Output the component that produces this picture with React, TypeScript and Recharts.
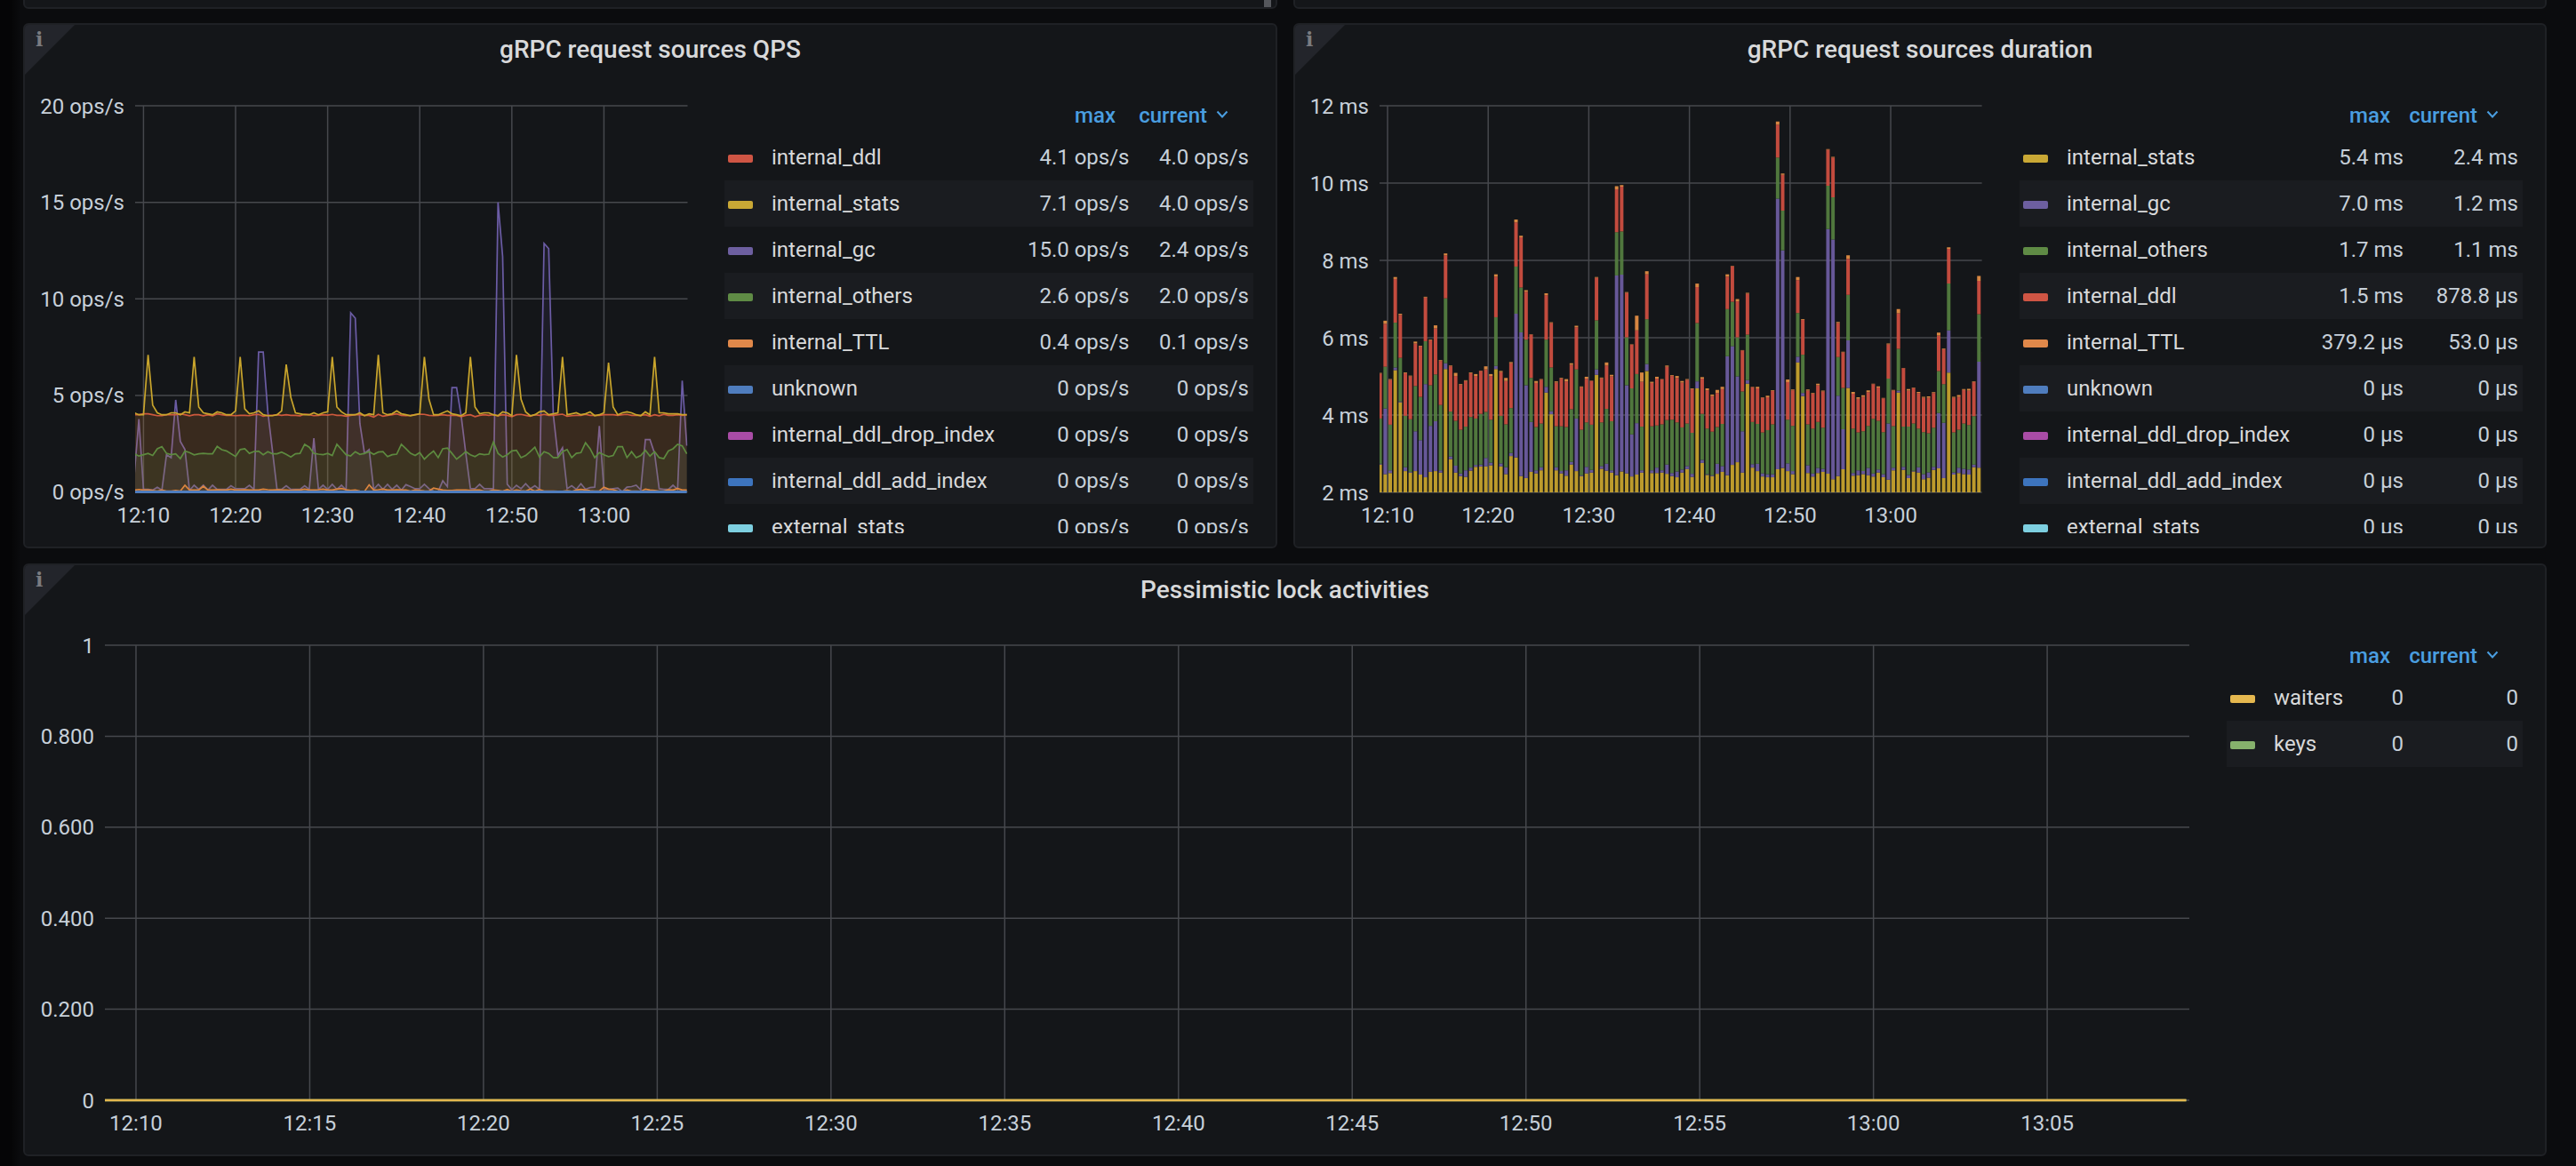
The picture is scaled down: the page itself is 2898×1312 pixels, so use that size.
import React from 'react'
import {
  Area,
  Bar,
  BarChart,
  CartesianGrid,
  ComposedChart,
  Line,
  LineChart,
  XAxis,
  YAxis,
} from 'recharts'

const FONT = 'Roboto, sans-serif'
const TEXT = '#c7d0d9'
const GRID = '#46484d'

// sample times, minutes after 12:00, one every 30s from 12:09
const sampleMinutes = Array.from({ length: 121 }, (_, i) => 9 + i * 0.5)

// gRPC request sources QPS
const qpsDdl = [
  4.0, 4.0, 4.05, 4.05, 4.0, 3.95, 3.95, 4.0, 4.0, 4.0,
  4.05, 4.0, 3.95, 4.0, 4.0, 3.95, 4.0, 3.95, 4.05, 4.0,
  3.97, 3.97, 3.95, 3.97, 3.97, 3.95, 4.0, 4.02, 3.92, 3.97,
  3.97, 4.0, 3.97, 4.0, 3.97, 3.97, 3.95, 4.03, 4.0, 3.95,
  3.97, 4.0, 3.98, 4.02, 3.97, 3.97, 3.92, 3.97, 4.0, 4.0,
  3.97, 3.97, 3.88, 4.02, 3.92, 3.97, 4.0, 4.05, 3.97, 3.95,
  3.97, 4.0, 4.03, 4.02, 3.97, 3.95, 3.97, 4.0, 3.97, 3.97,
  3.97, 3.9, 3.97, 4.0, 3.9, 3.97, 4.0, 3.97, 4.0, 3.95,
  4.0, 3.97, 3.9, 4.0, 4.02, 3.97, 3.92, 4.0, 3.97, 4.02,
  3.97, 3.97, 4.0, 4.03, 3.92, 3.95, 3.97, 3.97, 4.02, 3.97,
  3.97, 3.97, 4.0, 4.0, 4.0, 3.97, 4.0, 4.02, 3.97, 3.97,
  3.97, 4.0, 3.92, 4.0, 3.95, 4.02, 3.97, 3.97, 4.0, 3.97,
  4.0,
]
const qpsStats = [
  4.1, 4.0, 4.0, 7.1, 4.5, 4.1, 4.0, 4.0, 4.1, 4.1,
  4.0, 4.15, 4.1, 7.0, 4.4, 4.1, 4.05, 4.0, 4.15, 4.1,
  4.0, 4.0, 4.2, 7.0, 4.3, 4.05, 4.1, 4.2, 4.0, 3.95,
  3.95, 4.0, 4.2, 6.6, 4.9, 4.1, 4.05, 4.0, 4.0, 4.1,
  4.0, 4.1, 4.15, 7.0, 4.4, 4.15, 4.0, 4.0, 4.0, 4.1,
  3.95, 4.05, 4.0, 7.1, 4.1, 4.0, 4.05, 4.2, 4.05, 4.0,
  3.95, 4.0, 4.05, 7.0, 4.8, 4.0, 4.0, 4.1, 4.2, 4.05,
  4.0, 3.95, 4.1, 7.0, 4.4, 4.05, 4.1, 4.1, 4.0, 3.95,
  4.15, 4.1, 3.95, 7.1, 4.8, 4.15, 3.95, 4.0, 4.15, 4.2,
  4.0, 4.05, 4.1, 7.0, 4.0, 4.05, 4.1, 4.0, 4.05, 4.15,
  3.95, 4.0, 4.1, 6.7, 4.4, 4.0, 4.1, 4.15, 4.1, 4.0,
  3.95, 4.15, 4.0, 7.0, 4.1, 4.1, 4.05, 4.05, 4.05, 4.0,
  4.0,
]
const qpsGc = [
  0.9, 3.77, 0.14, 0.14, 0.1, 0.25, 0.1, 1.93, 1.78, 4.77,
  2.62, 2.2, 0.08, 0.35, 0.14, 0.35, 0.1, 0.35, 0.14, 0.14,
  0.14, 0.32, 0.17, 0.17, 0.17, 0.35, 0.14, 7.25, 7.25, 4.15,
  2.16, 0.14, 0.14, 0.32, 0.14, 0.14, 0.14, 0.32, 0.14, 2.78,
  0.14, 0.35, 0.14, 0.4, 0.14, 0.35, 0.1, 9.28, 9.0, 3.54,
  2.0, 2.2, 0.14, 0.4, 0.14, 0.4, 0.14, 0.35, 0.1, 0.38,
  0.28, 0.17, 0.17, 0.4, 0.17, 0.05, 0.02, 0.58, 0.28, 5.41,
  5.41, 3.93, 2.0, 0.17, 0.17, 0.4, 0.17, 0.17, 0.17, 15.0,
  12.2, 0.4, 0.12, 0.35, 0.17, 0.43, 0.17, 0.32, 0.14, 12.87,
  12.6, 4.0, 1.89, 2.29, 0.17, 0.32, 0.14, 0.43, 0.14, 0.23,
  0.25, 3.42, 0.14, 0.14, 0.17, 0.2, 0.02, 0.25, 0.28, 0.35,
  0.1, 2.71, 2.71, 2.0, 0.17, 0.14, 0.14, 0.35, 0.14, 5.77,
  2.4,
]
const qpsOthers = [
  1.98, 1.86, 1.93, 2.0, 1.89, 2.24, 2.35, 2.0, 1.93, 1.98,
  1.73, 2.12, 2.04, 1.92, 1.98, 2.0, 1.98, 1.98, 2.36, 2.19,
  2.13, 1.98, 1.84, 2.2, 2.24, 2.0, 2.1, 2.12, 1.93, 2.09,
  1.98, 1.98, 2.07, 1.95, 1.81, 1.98, 2.0, 2.47, 2.32, 2.0,
  1.96, 1.93, 2.0, 1.89, 2.47, 2.2, 1.93, 1.87, 2.09, 1.95,
  2.0, 2.09, 1.95, 2.07, 2.09, 1.83, 1.93, 1.96, 2.47, 2.24,
  2.0, 1.89, 2.04, 1.7, 1.93, 2.12, 1.78, 2.24, 2.27, 2.0,
  1.7, 1.89, 2.09, 1.93, 1.83, 1.98, 1.93, 1.96, 2.59, 2.0,
  1.81, 1.93, 2.13, 2.16, 1.78, 1.89, 2.09, 2.32, 1.81, 2.09,
  2.0, 1.78, 1.78, 2.09, 2.2, 1.78, 2.0, 2.04, 2.55, 2.24,
  1.78, 2.04, 1.93, 1.83, 1.89, 2.35, 2.35, 1.78, 2.09, 1.78,
  1.89, 2.16, 1.86, 2.09, 1.78, 1.73, 2.13, 2.24, 2.47, 2.39,
  1.98,
]
const qpsTtl = [
  0.1, 0.13, 0.1, 0.1, 0.08, 0.05, 0.1, 0.05, 0.05, 0.08,
  0.05, 0.35, 0.1, 0.1, 0.1, 0.3, 0.1, 0.1, 0.12, 0.1,
  0.1, 0.15, 0.1, 0.1, 0.12, 0.1, 0.1, 0.1, 0.15, 0.12,
  0.1, 0.12, 0.1, 0.1, 0.08, 0.1, 0.1, 0.15, 0.1, 0.1,
  0.12, 0.15, 0.1, 0.1, 0.15, 0.18, 0.12, 0.08, 0.1, 0.05,
  0.03, 0.37, 0.1, 0.12, 0.15, 0.1, 0.1, 0.12, 0.1, 0.1,
  0.05, 0.1, 0.08, 0.06, 0.05, 0.2, 0.15, 0.1, 0.08, 0.08,
  0.1, 0.1, 0.1, 0.08, 0.1, 0.1, 0.05, 0.05, 0.1, 0.08,
  0.05, 0.12, 0.05, 0.1, 0.07, 0.05, 0.15, 0.05, 0.13, 0.05,
  0.05, 0.05, 0.03, 0.03, 0.07, 0.03, 0.1, 0.14, 0.1, 0.07,
  0.05, 0.05, 0.25, 0.15, 0.12, 0.05, 0.03, 0.1, 0.05, 0.05,
  0.03, 0.15, 0.1, 0.08, 0.05, 0.05, 0.12, 0.1, 0.18, 0.1,
  0.1,
]
const qpsUnknown = [
  0, 0, 0, 0, 0, 0, 0, 0, 0, 0, 0, 0, 0, 0, 0, 0, 0, 0, 0, 0,
  0, 0, 0, 0, 0, 0, 0, 0, 0, 0, 0, 0, 0, 0, 0, 0, 0, 0, 0, 0,
  0, 0, 0, 0, 0, 0, 0, 0, 0, 0, 0, 0, 0, 0, 0, 0, 0, 0, 0, 0,
  0, 0, 0, 0, 0, 0, 0, 0, 0, 0, 0, 0, 0, 0, 0, 0, 0, 0, 0, 0,
  0, 0, 0, 0, 0, 0, 0, 0, 0, 0, 0, 0, 0, 0, 0, 0, 0, 0, 0, 0,
  0, 0, 0, 0, 0, 0, 0, 0, 0, 0, 0, 0, 0, 0, 0, 0, 0, 0, 0, 0,
  0,
]

// gRPC request sources duration, in ms
const durStats = [
  2.72, 2.47, 2.5, 5.16, 4.33, 2.55, 2.51, 2.55, 2.46, 2.39,
  2.53, 2.55, 2.51, 5.19, 2.86, 2.51, 2.42, 2.4, 2.56, 2.66,
  2.67, 2.67, 2.7, 5.19, 2.67, 2.47, 2.94, 2.9, 2.42, 2.37,
  2.53, 2.49, 2.57, 4.58, 4.02, 2.57, 2.49, 2.43, 2.72, 2.55,
  2.42, 2.49, 2.51, 5.04, 2.61, 2.56, 2.51, 2.44, 2.54, 2.49,
  2.41, 2.46, 2.51, 5.14, 2.5, 2.5, 2.51, 2.48, 2.42, 2.39,
  2.51, 2.6, 2.4, 4.69, 2.76, 2.45, 2.42, 2.48, 2.53, 2.44,
  2.71, 2.78, 2.51, 4.81, 2.64, 2.55, 2.41, 2.39, 2.39, 2.6,
  2.63, 2.55, 2.47, 5.36, 4.49, 2.5, 2.41, 2.5, 2.53, 2.48,
  2.34, 2.42, 2.6, 4.7, 2.43, 2.44, 2.47, 2.44, 2.41, 2.51,
  2.39, 2.33, 2.57, 4.58, 2.58, 2.37, 2.54, 2.51, 2.34, 2.38,
  2.58, 2.62, 2.37, 5.1, 2.46, 2.5, 2.47, 2.46, 2.65, 2.64,
  2.38,
]
const durGc = [
  0.02, 1.7, 0.07, 0.07, 0.02, 0.1, 0.02, 1.03, 0.89, 2.41,
  1.19, 1.29, 0.06, 0.15, 0.07, 0.18, 0.07, 0.17, 0.08, 0.05,
  0.05, 0.22, 0.07, 0.08, 0.08, 0.18, 0.08, 3.72, 3.72, 2.4,
  1.29, 0.08, 0.08, 0.15, 0.08, 0.08, 0.06, 0.14, 0.07, 1.36,
  0.02, 0.17, 0.07, 0.14, 0.07, 0.18, 0.06, 5.17, 5.09, 2.28,
  1.09, 1.33, 0.06, 0.18, 0.07, 0.14, 0.06, 0.24, 0.08, 0.15,
  0.08, 0.08, 0.08, 0.18, 0.08, 0.02, 0.02, 0.26, 0.15, 3.08,
  3.07, 2.22, 1.07, 0.09, 0.09, 0.19, 0.08, 0.08, 0.08, 7.0,
  5.63, 0.2, 0.08, 0.15, 0.08, 0.2, 0.08, 0.13, 0.08, 6.33,
  6.2, 2.08, 1.03, 1.23, 0.07, 0.13, 0.08, 0.19, 0.08, 0.08,
  0.08, 1.45, 0.07, 0.05, 0.08, 0.08, 0.02, 0.14, 0.13, 0.14,
  0.08, 1.43, 1.43, 1.09, 0.06, 0.14, 0.14, 0.13, 0.07, 2.74,
  1.26,
]
const durOthers = [
  1.17, 1.08, 1.18, 1.16, 1.13, 1.33, 1.36, 1.17, 1.12, 1.11,
  1.05, 1.21, 1.69, 1.68, 1.16, 1.16, 1.13, 1.13, 1.31, 1.2,
  1.31, 1.19, 1.11, 1.26, 1.23, 1.11, 1.16, 1.22, 1.16, 1.18,
  1.14, 1.12, 1.13, 1.22, 1.13, 1.06, 1.16, 1.12, 1.36, 1.27,
  1.18, 1.15, 1.17, 1.27, 1.13, 1.42, 1.27, 1.12, 1.12, 1.24,
  1.19, 1.27, 1.13, 1.16, 1.14, 1.09, 1.19, 1.15, 1.38, 1.27,
  1.09, 1.1, 1.06, 1.51, 1.19, 1.18, 1.13, 0.95, 1.09, 1.22,
  1.15, 1.01, 1.03, 1.18, 1.09, 1.03, 1.06, 1.14, 1.29, 1.06,
  1.03, 1.13, 1.17, 1.13, 0.99, 1.06, 1.16, 1.19, 1.06, 1.12,
  1.09, 1.0, 1.07, 1.18, 1.15, 0.98, 1.03, 1.09, 1.41, 1.26,
  1.09, 1.16, 1.07, 1.08, 1.04, 1.25, 1.22, 1.0, 1.09, 1.01,
  1.01, 1.09, 1.0, 1.21, 1.03, 0.98, 1.17, 1.15, 1.25, 1.23,
  1.06,
]
const durDdl = [
  1.16, 1.11, 1.16, 1.13, 1.11, 1.1, 1.11, 1.1, 1.3, 1.13,
  1.16, 1.19, 1.14, 1.11, 1.17, 1.16, 1.16, 1.18, 1.13, 1.1,
  1.11, 1.1, 1.13, 1.05, 1.13, 1.12, 1.16, 1.14, 1.3, 1.24,
  1.12, 1.14, 1.13, 1.15, 1.15, 1.13, 1.23, 1.18, 1.15, 1.09,
  1.1, 1.13, 1.13, 1.1, 1.14, 1.12, 1.16, 1.11, 1.16, 1.15,
  1.13, 1.13, 1.16, 1.16, 1.12, 1.21, 1.16, 1.38, 1.13, 1.15,
  1.16, 1.13, 1.13, 0.93, 0.91, 0.99, 0.92, 0.88, 0.9, 0.84,
  0.92, 0.93, 1.06, 1.06, 0.9, 0.92, 0.9, 0.85, 0.86, 0.85,
  0.92, 0.97, 0.92, 0.85, 0.9, 0.87, 0.9, 0.95, 0.94, 0.93,
  1.03, 0.88, 0.92, 0.93, 0.9, 0.87, 0.89, 0.87, 0.9, 0.86,
  0.87, 0.89, 0.92, 0.92, 1.51, 0.93, 0.92, 0.92, 0.89, 0.92,
  0.9, 0.92, 0.9, 0.9, 0.9, 0.85, 0.87, 0.89, 0.88, 0.86,
  0.88,
]
const durTtl = [
  0.02, 0.08, 0.02, 0.05, 0.03, 0.02, 0.02, 0.05, 0.02, 0.02,
  0.02, 0.08, 0.02, 0.05, 0.02, 0.08, 0.02, 0.02, 0.02, 0.05,
  0.01, 0.08, 0.05, 0.06, 0.03, 0.08, 0.03, 0.08, 0.04, 0.04,
  0.01, 0.05, 0.02, 0.05, 0.02, 0.03, 0.02, 0.06, 0.04, 0.04,
  0.02, 0.05, 0.01, 0.02, 0.02, 0.08, 0.04, 0.08, 0.04, 0.02,
  0.01, 0.38, 0.24, 0.08, 0.03, 0.05, 0.01, 0.03, 0.02, 0.05,
  0.04, 0.02, 0.02, 0.09, 0.04, 0.05, 0.04, 0.08, 0.06, 0.06,
  0.01, 0.06, 0.01, 0.02, 0.01, 0.04, 0.01, 0.04, 0.02, 0.08,
  0.04, 0.07, 0.02, 0.08, 0.02, 0.03, 0.02, 0.04, 0.02, 0.02,
  0.02, 0.03, 0.02, 0.09, 0.05, 0.04, 0.04, 0.05, 0.01, 0.03,
  0.01, 0.02, 0.02, 0.11, 0.01, 0.04, 0.01, 0.03, 0.02, 0.03,
  0.02, 0.07, 0.02, 0.04, 0.02, 0.05, 0.02, 0.05, 0.02, 0.13,
  0.05,
]

// Pessimistic lock activities
const lockMinutes = [9, 10, 15, 20, 25, 30, 35, 40, 45, 50, 55, 60, 65, 69]
const lockWaiters = [0, 0, 0, 0, 0, 0, 0, 0, 0, 0, 0, 0, 0, 0]
const lockKeys = [0, 0, 0, 0, 0, 0, 0, 0, 0, 0, 0, 0, 0, 0]

// axes
const tenMinTicks = [10, 20, 30, 40, 50, 60]
const fiveMinTicks = [10, 15, 20, 25, 30, 35, 40, 45, 50, 55, 60, 65]
const qpsTicks = [0, 5, 10, 15, 20]
const durTicks = [2, 4, 6, 8, 10, 12]
const lockTicks = [0, 0.2, 0.4, 0.6, 0.8, 1]

// legends
const qpsNames = ['internal_ddl', 'internal_stats', 'internal_gc', 'internal_others', 'internal_TTL', 'unknown', 'internal_ddl_drop_index', 'internal_ddl_add_index', 'external_stats']
const qpsColors = ['#cf5544', '#c9a835', '#6d5fa0', '#5f8b45', '#e0884a', '#4f7dbe', '#a94ca6', '#3d74be', '#7dcfe0']
const qpsMax = ['4.1 ops/s', '7.1 ops/s', '15.0 ops/s', '2.6 ops/s', '0.4 ops/s', '0 ops/s', '0 ops/s', '0 ops/s', '0 ops/s']
const qpsCurrent = ['4.0 ops/s', '4.0 ops/s', '2.4 ops/s', '2.0 ops/s', '0.1 ops/s', '0 ops/s', '0 ops/s', '0 ops/s', '0 ops/s']

const durNames = ['internal_stats', 'internal_gc', 'internal_others', 'internal_ddl', 'internal_TTL', 'unknown', 'internal_ddl_drop_index', 'internal_ddl_add_index', 'external_stats']
const durColors = ['#c9a835', '#6d5fa0', '#5f8b45', '#cf5544', '#e0884a', '#4f7dbe', '#a94ca6', '#3d74be', '#7dcfe0']
const durMax = ['5.4 ms', '7.0 ms', '1.7 ms', '1.5 ms', '379.2 μs', '0 μs', '0 μs', '0 μs', '0 μs']
const durCurrent = ['2.4 ms', '1.2 ms', '1.1 ms', '878.8 μs', '53.0 μs', '0 μs', '0 μs', '0 μs', '0 μs']

const lockNames = ['waiters', 'keys']
const lockColors = ['#e5b84f', '#86b16c']
const lockMax = ['0', '0']
const lockCurrent = ['0', '0']

const qpsData = sampleMinutes.map((t, i) => ({
  t,
  ddl: qpsDdl[i],
  stats: qpsStats[i],
  gc: qpsGc[i],
  others: qpsOthers[i],
  ttl: qpsTtl[i],
  unknown: qpsUnknown[i],
}))

// grafana draws a bar from its timestamp, so centre it a quarter minute later
const durData = sampleMinutes.map((t, i) => ({
  t: t + 0.25,
  stats: durStats[i],
  gc: durGc[i],
  others: durOthers[i],
  ddl: durDdl[i],
  ttl: durTtl[i],
}))

const lockData = lockMinutes.map((t, i) => ({ t, waiters: lockWaiters[i], keys: lockKeys[i] }))

const clock = (m: number) => {
  const h = 12 + Math.floor(m / 60)
  return `${h}:${String(m % 60).padStart(2, '0')}`
}

const tickStyle = { fill: TEXT, fontSize: 24, fontFamily: FONT }

function Panel({ left, top, width, height, title }: { left: number; top: number; width: number; height: number; title: string }) {
  return (
    <div
      style={{
        position: 'absolute',
        left,
        top,
        width,
        height,
        boxSizing: 'border-box',
        background: '#141619',
        border: '2px solid #1f2125',
        borderRadius: 6,
        overflow: 'hidden',
      }}
    >
      <div
        style={{
          position: 'absolute',
          left: 0,
          top: 0,
          width: 0,
          height: 0,
          borderTop: '56px solid #23252b',
          borderRight: '56px solid transparent',
        }}
      />
      <div
        style={{
          position: 'absolute',
          left: 12,
          top: 3,
          color: '#7b7c80',
          fontFamily: 'DejaVu Serif, serif',
          fontWeight: 700,
          fontSize: 22,
        }}
      >
        i
      </div>
      <div
        style={{
          position: 'absolute',
          left: 0,
          right: 0,
          top: 12,
          textAlign: 'center',
          color: '#d8d9da',
          fontFamily: FONT,
          fontWeight: 500,
          fontSize: 28,
          lineHeight: '32px',
        }}
      >
        {title}
      </div>
    </div>
  )
}

interface LegendProps {
  names: string[]
  colors: string[]
  max: string[]
  current: string[]
  swatchX: number
  bandRight: number
  maxRight: number
  currentRight: number
  headerTop: number
  rowTop: number
  rowHeight: number
  clipBottom: number
  maxLabelRight: number
  currentLabelRight: number
}

function LegendTable(p: LegendProps) {
  const cell = (right: number, y: number, height: number): React.CSSProperties => ({
    position: 'absolute',
    right: 2898 - right,
    top: y,
    lineHeight: `${height}px`,
    whiteSpace: 'nowrap',
  })
  return (
    <div style={{ position: 'absolute', left: 0, top: 0, width: 2898, height: p.clipBottom, overflow: 'hidden', fontFamily: FONT, fontSize: 24, color: TEXT }}>
      <div style={{ ...cell(p.maxLabelRight, p.headerTop, 32), color: '#4a9ee0', fontWeight: 500 }}>max</div>
      <div style={{ ...cell(p.currentLabelRight, p.headerTop, 32), color: '#4a9ee0', fontWeight: 500 }}>current</div>
      <svg
        style={{ position: 'absolute', left: p.currentLabelRight + 10, top: p.headerTop + 10 }}
        width="14"
        height="10"
        viewBox="0 0 14 10"
      >
        <path d="M1.5 1.5 L7 7.5 L12.5 1.5" fill="none" stroke="#4a9ee0" strokeWidth="2" />
      </svg>
      {p.names.map((name, i) => {
        const y = p.rowTop + i * p.rowHeight
        return (
          <React.Fragment key={name}>
            {i % 2 === 1 && (
              <div style={{ position: 'absolute', left: p.swatchX - 4, top: y, width: p.bandRight - p.swatchX + 4, height: p.rowHeight, background: '#1a1c20' }} />
            )}
            <div
              style={{
                position: 'absolute',
                left: p.swatchX,
                top: y + p.rowHeight / 2 - 3,
                width: 28,
                height: 9,
                borderRadius: 2,
                background: p.colors[i],
              }}
            />
            <div style={{ position: 'absolute', left: p.swatchX + 49, top: y, lineHeight: `${p.rowHeight}px`, whiteSpace: 'nowrap', color: '#d8d9da' }}>{name}</div>
            <div style={cell(p.maxRight, y, p.rowHeight)}>{p.max[i]}</div>
            <div style={cell(p.currentRight, y, p.rowHeight)}>{p.current[i]}</div>
          </React.Fragment>
        )
      })}
    </div>
  )
}

function QpsChart() {
  const series: [keyof (typeof qpsData)[number], string, number][] = [
    ['gc', '#6b5ca5', 1.7],
    ['ddl', '#d0503f', 1.7],
    ['stats', '#c9a52c', 1.7],
    ['others', '#5d8a3f', 1.7],
    ['ttl', '#dc8640', 1.7],
    ['unknown', '#4f7dbe', 3],
  ]
  return (
    <div style={{ position: 'absolute', left: 26, top: 26 }}>
      <ComposedChart width={1411} height={591} data={qpsData} margin={{ top: 93, right: 663.5, left: 0, bottom: 3.4 }}>
        <CartesianGrid stroke={GRID} strokeWidth={1.5} syncWithTicks />
        <XAxis
          dataKey="t"
          type="number"
          domain={[9.09, 69.08]}
          allowDataOverflow
          ticks={tenMinTicks}
          interval={0}
          tickFormatter={clock}
          tick={tickStyle}
          tickLine={false}
          axisLine={false}
          tickSize={0}
          tickMargin={17}
          height={60}
        />
        <YAxis
          type="number"
          domain={[0, 20]}
          ticks={qpsTicks}
          interval={0}
          tickFormatter={(v: number) => `${v} ops/s`}
          tick={tickStyle}
          tickLine={false}
          axisLine={false}
          tickSize={0}
          tickMargin={12}
          width={126}
        />
        {series.map(([key, color, width]) => (
          <Area
            key={key}
            type="linear"
            dataKey={key}
            stroke={color}
            strokeWidth={width}
            fill={color}
            fillOpacity={0.11}
            dot={false}
            activeDot={false}
            isAnimationActive={false}
          />
        ))}
      </ComposedChart>
    </div>
  )
}

function DurationChart() {
  const series: [keyof (typeof durData)[number], string][] = [
    ['stats', '#c8a42e'],
    ['gc', '#6c5ca0'],
    ['others', '#547d40'],
    ['ddl', '#ce4f41'],
    ['ttl', '#e38d44'],
  ]
  return (
    <div style={{ position: 'absolute', left: 1455, top: 26 }}>
      <BarChart width={1410} height={591} data={durData} barGap={0} margin={{ top: 93, right: 635.4, left: 0, bottom: 3 }}>
        <CartesianGrid stroke={GRID} strokeWidth={1.5} syncWithTicks />
        <XAxis
          dataKey="t"
          type="number"
          domain={[9.205, 69.06]}
          allowDataOverflow
          ticks={tenMinTicks}
          interval={0}
          tickFormatter={clock}
          tick={tickStyle}
          tickLine={false}
          axisLine={false}
          tickSize={0}
          tickMargin={17}
          height={60}
        />
        <YAxis
          type="number"
          domain={[2, 12]}
          allowDataOverflow
          ticks={durTicks}
          interval={0}
          tickFormatter={(v: number) => `${v} ms`}
          tick={tickStyle}
          tickLine={false}
          axisLine={false}
          tickSize={0}
          tickMargin={12}
          width={97}
        />
        {series.map(([key, color]) => (
          <Bar key={key} dataKey={key} stackId="dur" fill={color} fillOpacity={0.94} barSize={4} isAnimationActive={false} />
        ))}
      </BarChart>
    </div>
  )
}

function LockChart() {
  return (
    <div style={{ position: 'absolute', left: 26, top: 634 }}>
      <LineChart width={2839} height={667} data={lockData} margin={{ top: 92, right: 402, left: 0, bottom: 3 }}>
        <CartesianGrid stroke={GRID} strokeWidth={1.5} syncWithTicks />
        <XAxis
          dataKey="t"
          type="number"
          domain={[9.105, 69.09]}
          allowDataOverflow
          ticks={fiveMinTicks}
          interval={0}
          tickFormatter={clock}
          tick={tickStyle}
          tickLine={false}
          axisLine={false}
          tickSize={0}
          tickMargin={17}
          height={60}
        />
        <YAxis
          type="number"
          domain={[0, 1]}
          ticks={lockTicks}
          interval={0}
          tickFormatter={(v: number) => (v === 0 || v === 1 ? String(v) : v.toFixed(3))}
          tick={tickStyle}
          tickLine={false}
          axisLine={false}
          tickSize={0}
          tickMargin={12}
          width={92}
        />
        <Line type="linear" dataKey="keys" stroke="#86b16c" strokeWidth={2.5} dot={false} activeDot={false} isAnimationActive={false} />
        <Line type="linear" dataKey="waiters" stroke="#e5b84f" strokeWidth={2.5} dot={false} activeDot={false} isAnimationActive={false} />
      </LineChart>
    </div>
  )
}

export default function App() {
  return (
    <div
      style={{
        position: 'absolute',
        left: 0,
        top: 0,
        width: 2898,
        height: 1312,
        overflow: 'hidden',
        background: 'linear-gradient(90deg, #050506 0, #050506 12px, #0b0c0e 24px)',
      }}
    >
      {/* bottoms of the row of panels above */}
      <div style={{ position: 'absolute', left: 26, top: -20, width: 1411, height: 30, boxSizing: 'border-box', background: '#141619', border: '2px solid #1f2125', borderRadius: 6 }} />
      <div style={{ position: 'absolute', left: 1422, top: 0, width: 8, height: 8, background: '#55575c' }} />
      <div style={{ position: 'absolute', left: 1455, top: -20, width: 1410, height: 30, boxSizing: 'border-box', background: '#141619', border: '2px solid #1f2125', borderRadius: 6 }} />

      <Panel left={26} top={26} width={1411} height={591} title="gRPC request sources QPS" />
      <Panel left={1455} top={26} width={1410} height={591} title="gRPC request sources duration" />
      <Panel left={26} top={634} width={2839} height={667} title="Pessimistic lock activities" />

      <LegendTable
        names={qpsNames}
        colors={qpsColors}
        max={qpsMax}
        current={qpsCurrent}
        swatchX={819}
        bandRight={1410}
        maxRight={1270.5}
        currentRight={1405}
        headerTop={114}
        rowTop={151}
        rowHeight={52}
        clipBottom={600}
        maxLabelRight={1255}
        currentLabelRight={1358}
      />
      <LegendTable
        names={durNames}
        colors={durColors}
        max={durMax}
        current={durCurrent}
        swatchX={2276}
        bandRight={2838}
        maxRight={2704}
        currentRight={2833}
        headerTop={114}
        rowTop={151}
        rowHeight={52}
        clipBottom={600}
        maxLabelRight={2689}
        currentLabelRight={2787}
      />
      <LegendTable
        names={lockNames}
        colors={lockColors}
        max={lockMax}
        current={lockCurrent}
        swatchX={2509}
        bandRight={2838}
        maxRight={2704}
        currentRight={2833}
        headerTop={722}
        rowTop={759}
        rowHeight={52}
        clipBottom={1000}
        maxLabelRight={2689}
        currentLabelRight={2787}
      />

      <QpsChart />
      <DurationChart />
      <LockChart />
    </div>
  )
}
